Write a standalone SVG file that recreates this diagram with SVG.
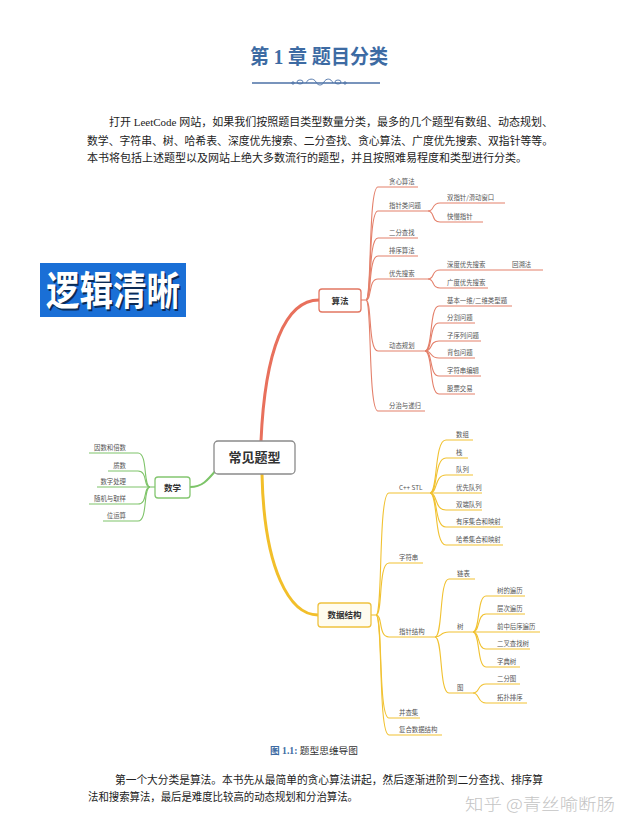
<svg xmlns="http://www.w3.org/2000/svg" width="633" height="832" viewBox="0 0 633 832">
<style>
.body{font-family:"Liberation Serif","Noto Sans CJK SC",serif;font-size:10.8px;fill:#222}
.lbl{font-family:"Noto Sans CJK SC","Noto Sans",sans-serif;font-size:6.4px;fill:#555}
.bx{font-family:"Noto Sans CJK SC","Noto Sans",sans-serif;font-weight:bold;fill:#333;text-anchor:middle}
.r{fill:none;stroke:#e4806b;stroke-width:1.1}
.y{fill:none;stroke:#f1c232;stroke-width:1.1}
.g{fill:none;stroke:#7fc46a;stroke-width:1.1}
</style>
<rect width="633" height="832" fill="#ffffff"/>

<!-- title -->
<g id="title">
<text x="319" y="64" text-anchor="middle" font-family="Liberation Serif,'Noto Sans CJK SC',serif" font-weight="bold" font-size="20" fill="#3d6ba3" textLength="138" lengthAdjust="spacingAndGlyphs">第 1 章  题目分类</text>
<line x1="252" y1="83" x2="380" y2="83" stroke="#4b70a6" stroke-width="1.3"/>
<g fill="none" stroke="#4b70a6" stroke-width="0.9">
<ellipse cx="300" cy="82" rx="3" ry="2"/><ellipse cx="338" cy="82" rx="3" ry="2"/>
<path d="M306,83 C308,78 314,78 316,82 C318,86 322,86 324,82 C326,78 331,78 333,83"/>
<circle cx="293" cy="83" r="1.2"/><circle cx="345" cy="83" r="1.2"/>
</g>
</g>

<!-- intro paragraph -->
<g id="intro">
<text class="body" x="109" y="126" textLength="444" lengthAdjust="spacingAndGlyphs">打开 LeetCode 网站，如果我们按照题目类型数量分类，最多的几个题型有数组、动态规划、</text>
<text class="body" x="87" y="145" textLength="466" lengthAdjust="spacingAndGlyphs">数学、字符串、树、哈希表、深度优先搜索、二分查找、贪心算法、广度优先搜索、双指针等等。</text>
<text class="body" x="87" y="162" textLength="440" lengthAdjust="spacingAndGlyphs">本书将包括上述题型以及网站上绝大多数流行的题型，并且按照难易程度和类型进行分类。</text>
</g>

<!-- banner -->
<g id="banner">
<rect x="40" y="263" width="146" height="54" fill="#1a6fd6"/>
<text x="114.5" y="306.5" text-anchor="middle" font-family="'Noto Sans CJK SC',sans-serif" font-weight="bold" font-size="40" fill="#0b2a55" textLength="134" lengthAdjust="spacingAndGlyphs">逻辑清晰</text>
<text x="113" y="305" text-anchor="middle" font-family="'Noto Sans CJK SC',sans-serif" font-weight="bold" font-size="40" fill="#ffffff" textLength="134" lengthAdjust="spacingAndGlyphs">逻辑清晰</text>
</g>

<!-- connectors -->
<g id="connectors">
<!-- main branches -->
<path d="M261,441 C265,350 285,300 319,300" fill="none" stroke="#e8705c" stroke-width="3"/>
<path d="M262,474 C264,570 290,615 318,615" fill="none" stroke="#f2bf2a" stroke-width="3"/>
<path d="M217,469 C207,481 202,487 190,487" fill="none" stroke="#7cc468" stroke-width="2"/>

<!-- algorithm -->
<path class="r" d="M361,300 L366,300"/>
<path class="r" d="M366,300 C372,300 368,187 378,187 L418,187"/>
<path class="r" d="M366,300 C372,300 368,211 378,211 L428,211"/>
<path class="r" d="M366,300 C372,300 368,238 378,238 L418,238"/>
<path class="r" d="M366,300 C372,300 368,256 378,256 L418,256"/>
<path class="r" d="M366,300 C372,300 368,279 378,279 L428,279"/>
<path class="r" d="M366,300 C372,300 368,351 378,351 L425,351"/>
<path class="r" d="M366,300 C372,300 368,411 378,411 L425,411"/>
<path class="r" d="M428,211 C435,211 431,203 440,203 L505,203"/>
<path class="r" d="M428,211 C435,211 431,222 440,222 L483,222"/>
<path class="r" d="M428,279 C435,279 431,270 440,270 L543,270"/>
<path class="r" d="M428,279 C435,279 431,288 440,288 L488,288"/>
<path class="r" d="M425,351 C433,351 429,306 439,306 L512,306"/>
<path class="r" d="M425,351 C433,351 429,323 439,323 L475,323"/>
<path class="r" d="M425,351 C433,351 429,341 439,341 L481,341"/>
<path class="r" d="M425,351 C433,351 429,358 439,358 L475,358"/>
<path class="r" d="M425,351 C433,351 429,376 439,376 L481,376"/>
<path class="r" d="M425,351 C433,351 429,394 439,394 L475,394"/>

<!-- data structures -->
<path class="y" d="M371,615 L376,615"/>
<path class="y" d="M376,615 C383,615 378,493 389,493 L430,493"/>
<path class="y" d="M376,615 C383,615 378,563 389,563 L423,563"/>
<path class="y" d="M376,615 C383,615 378,637 389,637 L435,637"/>
<path class="y" d="M376,615 C383,615 378,718 389,718 L420,718"/>
<path class="y" d="M376,615 C383,615 378,735 389,735 L442,735"/>
<path class="y" d="M430,493 C438,493 434,440 446,440 L473,440"/>
<path class="y" d="M430,493 C438,493 434,458 446,458 L468,458"/>
<path class="y" d="M430,493 C438,493 434,475 446,475 L473,475"/>
<path class="y" d="M430,493 L482,493"/>
<path class="y" d="M430,493 C438,493 434,510 446,510 L482,510"/>
<path class="y" d="M430,493 C438,493 434,527 446,527 L503,527"/>
<path class="y" d="M430,493 C438,493 434,545 446,545 L503,545"/>
<path class="y" d="M435,637 C443,637 439,579 449,579 L475,579"/>
<path class="y" d="M435,637 C443,637 439,632 449,632 L473,632"/>
<path class="y" d="M435,637 C443,637 439,693 449,693 L473,693"/>
<path class="y" d="M473,632 C480,632 477,596 486,596 L525,596"/>
<path class="y" d="M473,632 C480,632 477,614 486,614 L525,614"/>
<path class="y" d="M473,632 L540,632"/>
<path class="y" d="M473,632 C480,632 477,649 486,649 L530,649"/>
<path class="y" d="M473,632 C480,632 477,667 486,667 L520,667"/>
<path class="y" d="M473,693 C480,693 477,684 486,684 L520,684"/>
<path class="y" d="M473,693 C480,693 477,703 486,703 L527,703"/>

<!-- math -->
<path class="g" d="M155,487 L150,487"/>
<path class="g" d="M150,487 C143,487 148,453 138,453 L89,453"/>
<path class="g" d="M150,487 C143,487 148,471 138,471 L108,471"/>
<path class="g" d="M150,487 L97,487"/>
<path class="g" d="M150,487 C143,487 148,504 138,504 L89,504"/>
<path class="g" d="M150,487 C143,487 148,521 138,521 L103,521"/>
</g>

<!-- central node -->
<g id="node-center">
<rect x="214" y="441" width="81" height="33" rx="4" fill="#ffffff" stroke="#8a8a8a" stroke-width="1.3"/>
<text class="bx" x="254.5" y="462" font-size="13">常见题型</text>
</g>

<g id="node-algo">
<rect x="319" y="289" width="42" height="23" rx="3" fill="#ffffff" stroke="#e27762" stroke-width="1.3"/>
<text class="bx" x="340" y="303.5" font-size="8.5">算法</text>
</g>
<g id="node-ds">
<rect x="318" y="603" width="53" height="24" rx="3" fill="#fffcef" stroke="#efc240" stroke-width="1.3"/>
<text class="bx" x="344.5" y="618" font-size="8.5">数据结构</text>
</g>
<g id="node-math">
<rect x="155" y="477" width="35" height="21" rx="3" fill="#ffffff" stroke="#84c670" stroke-width="1.3"/>
<text class="bx" x="172.5" y="490.5" font-size="8.5">数学</text>
</g>

<!-- algorithm labels -->
<g id="algo-labels">
<text class="lbl" x="389" y="184">贪心算法</text>
<text class="lbl" x="389" y="208">指针类问题</text>
<text class="lbl" x="389" y="235">二分查找</text>
<text class="lbl" x="389" y="253">排序算法</text>
<text class="lbl" x="389" y="276">优先搜索</text>
<text class="lbl" x="389" y="348">动态规划</text>
<text class="lbl" x="389" y="408">分治与递归</text>
<text class="lbl" x="447" y="200">双指针/滑动窗口</text>
<text class="lbl" x="447" y="219">快慢指针</text>
<text class="lbl" x="447" y="267">深度优先搜索</text>
<text class="lbl" x="512" y="267">回溯法</text>
<text class="lbl" x="447" y="285">广度优先搜索</text>
<text class="lbl" x="447" y="303">基本一维/二维类型题</text>
<text class="lbl" x="447" y="320">分割问题</text>
<text class="lbl" x="447" y="338">子序列问题</text>
<text class="lbl" x="447" y="355">背包问题</text>
<text class="lbl" x="447" y="373">字符串编辑</text>
<text class="lbl" x="447" y="391">股票交易</text>
</g>

<!-- data structure labels -->
<g id="ds-labels">
<text class="lbl" x="399" y="490">C++ STL</text>
<text class="lbl" x="399" y="560">字符串</text>
<text class="lbl" x="399" y="634">指针结构</text>
<text class="lbl" x="399" y="715">并查集</text>
<text class="lbl" x="399" y="732">复合数据结构</text>
<text class="lbl" x="456" y="437">数组</text>
<text class="lbl" x="456" y="455">栈</text>
<text class="lbl" x="456" y="472">队列</text>
<text class="lbl" x="456" y="490">优先队列</text>
<text class="lbl" x="456" y="507">双端队列</text>
<text class="lbl" x="456" y="524">有序集合和映射</text>
<text class="lbl" x="456" y="542">哈希集合和映射</text>
<text class="lbl" x="457" y="576">链表</text>
<text class="lbl" x="457" y="629">树</text>
<text class="lbl" x="457" y="690">图</text>
<text class="lbl" x="497" y="593">树的遍历</text>
<text class="lbl" x="497" y="611">层次遍历</text>
<text class="lbl" x="497" y="629">前中后序遍历</text>
<text class="lbl" x="497" y="646">二叉查找树</text>
<text class="lbl" x="497" y="664">字典树</text>
<text class="lbl" x="497" y="681">二分图</text>
<text class="lbl" x="497" y="700">拓扑排序</text>
</g>

<!-- math labels -->
<g id="math-labels" text-anchor="end">
<text class="lbl" x="126" y="450">因数和倍数</text>
<text class="lbl" x="126" y="468">质数</text>
<text class="lbl" x="126" y="484">数字处理</text>
<text class="lbl" x="126" y="501">随机与取样</text>
<text class="lbl" x="126" y="518">位运算</text>
</g>

<!-- caption and closing text -->
<g id="caption">
<text x="270" y="754" font-family="Liberation Serif,'Noto Sans CJK SC',serif" font-size="9.5" fill="#333" textLength="88" lengthAdjust="spacingAndGlyphs"><tspan fill="#3d6ba3" font-weight="bold">图 1.1:</tspan> 题型思维导图</text>
</g>
<g id="closing">
<text class="body" x="115" y="784" textLength="428" lengthAdjust="spacingAndGlyphs">第一个大分类是算法。本书先从最简单的贪心算法讲起，然后逐渐进阶到二分查找、排序算</text>
<text class="body" x="88" y="801" textLength="270" lengthAdjust="spacingAndGlyphs">法和搜索算法，最后是难度比较高的动态规划和分治算法。</text>
</g>
<g id="watermark">
<text x="465" y="810" font-family="'Noto Sans CJK SC',sans-serif" font-weight="300" font-size="16" fill="#c4c4c4" textLength="150" lengthAdjust="spacingAndGlyphs">知乎 @青丝喻断肠</text>
</g>
</svg>
